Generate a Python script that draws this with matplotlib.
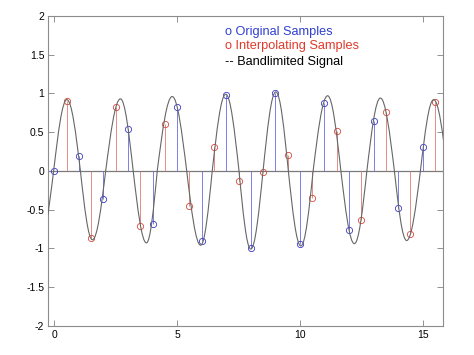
import numpy as np
import matplotlib
matplotlib.use("Agg")
import matplotlib.pyplot as plt
from matplotlib.path import Path
from matplotlib.patches import PathPatch

plt.rcParams['font.family'] = ['Liberation Sans', 'DejaVu Sans']

# sample values
orig_x = list(range(16))
orig_y = [0.0, 0.19, -0.36, 0.54, -0.68, 0.82, -0.90, 0.98,
          -1.00, 1.00, -0.94, 0.88, -0.77, 0.65, -0.48, 0.31]
interp_x = [n + 0.5 for n in range(16)]
interp_y = [0.90, -0.87, 0.82, -0.71, 0.61, -0.46, 0.31, -0.13,
            -0.02, 0.20, -0.35, 0.52, -0.64, 0.76, -0.82, 0.89]

# bandlimited signal: zero crossings and extrema, alternating
curve_x = [-0.57, -0.03, 0.51, 1.06, 1.55, 2.09, 2.69, 3.21, 3.75, 4.19,
           4.80, 5.39, 5.96, 6.43, 6.98, 7.52, 8.00, 8.50, 9.02, 9.53,
           10.04, 10.54, 11.13, 11.67, 12.22, 12.73, 13.28, 13.85, 14.35,
           14.91, 15.45, 16.01]
curve_y = [-0.88, 0, 0.92, 0, -0.89, 0, 0.93, 0, -0.93, 0,
           0.96, 0, -0.96, 0, 0.99, 0, -1.01, 0, 1.02, 0,
           -0.97, 0, 0.97, 0, -0.94, 0, 0.94, 0, -0.90,
           0, 0.92, 0]

y_ticks = [-2, -1.5, -1, -0.5, 0, 0.5, 1, 1.5, 2]
x_ticks = [0, 5, 10, 15]

fig = plt.figure(figsize=(4.74, 3.55), dpi=100)
ax = fig.add_axes([0.1023, 0.0825, 0.8323, 0.8724])

# smooth line through the knots, quarter-wave bezier pieces
verts = [(curve_x[0], curve_y[0])]
codes = [Path.MOVETO]
for i in range(len(curve_x) - 1):
    x0, y0 = curve_x[i], curve_y[i]
    x1, y1 = curve_x[i + 1], curve_y[i + 1]
    dx = x1 - x0
    if y0 == 0:
        c1 = (x0 + 0.3343 * dx, 0.5251 * y1)
        c2 = (x0 + 0.6401 * dx, y1)
    else:
        c1 = (x0 + 0.3599 * dx, y0)
        c2 = (x0 + 0.6657 * dx, 0.5251 * y0)
    verts += [c1, c2, (x1, y1)]
    codes += [Path.CURVE4] * 3

ax.axhline(0, color='#7a7a7a', lw=0.9, zorder=1)

ml, sl, bl = ax.stem(orig_x, orig_y, linefmt='-', markerfmt='o', basefmt=' ')
plt.setp(sl, color='#6a6ae0', linewidth=0.6)
plt.setp(ml, markeredgecolor='#3a3ad0', markerfacecolor='none',
         markersize=4.5, markeredgewidth=0.6)

ml2, sl2, bl2 = ax.stem(interp_x, interp_y, linefmt='-', markerfmt='o', basefmt=' ')
plt.setp(sl2, color='#e07a72', linewidth=0.6)
plt.setp(ml2, markeredgecolor='#d8483a', markerfacecolor='none',
         markersize=4.5, markeredgewidth=0.6)

patch = PathPatch(Path(verts, codes), facecolor='none', edgecolor='#666666',
                  lw=0.8, zorder=3)
ax.add_patch(patch)

ax.set_xlim(-0.24, 15.83)
ax.set_ylim(-2, 2)
ax.set_xticks(x_ticks)
ax.set_yticks(y_ticks)
ax.set_yticklabels([f'{v:g}' for v in y_ticks])
ax.tick_params(direction='in', length=4, width=0.6, color='#808080',
               labelsize=7.5, top=True, right=True, pad=3)
for s in ax.spines.values():
    s.set_color('#8c8c8c')
    s.set_linewidth(0.8)

ax.text(0.447, 0.948, 'o Original Samples', transform=ax.transAxes,
        color='#2f3fd0', fontsize=9.2, va='center')
ax.text(0.447, 0.903, 'o Interpolating Samples', transform=ax.transAxes,
        color='#e03a2a', fontsize=9.2, va='center')
ax.text(0.447, 0.852, '-- Bandlimited Signal', transform=ax.transAxes,
        color='black', fontsize=9.2, va='center')

fig.savefig('out.png', dpi=100)
